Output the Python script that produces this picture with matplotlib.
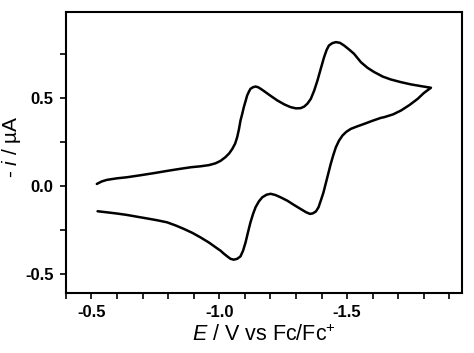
import matplotlib
matplotlib.use("Agg")
import matplotlib.pyplot as plt
from matplotlib.ticker import MultipleLocator

plt.rcParams['font.family'] = ['Liberation Sans', 'DejaVu Sans']
plt.rcParams['mathtext.fontset'] = 'custom'
plt.rcParams['mathtext.rm'] = 'Liberation Sans'
plt.rcParams['mathtext.it'] = 'Liberation Sans:italic'

# Forward scan (upper branch), E in V vs Fc/Fc+, -i in uA
E_fwd = [-0.521, -0.540, -0.560, -0.600, -0.639, -0.690, -0.743, -0.800, -0.848,
         -0.890, -0.926, -0.960, -0.985, -1.005, -1.024, -1.039, -1.051, -1.062,
         -1.070, -1.077, -1.083, -1.090, -1.096, -1.103, -1.109, -1.116, -1.122,
         -1.132, -1.142, -1.152, -1.162, -1.175, -1.200, -1.227, -1.255, -1.279,
         -1.300, -1.318, -1.332, -1.345, -1.358, -1.371, -1.384, -1.397, -1.410,
         -1.420, -1.429, -1.442, -1.456, -1.472, -1.488, -1.507, -1.527, -1.554,
         -1.580, -1.606, -1.640, -1.671, -1.710, -1.750, -1.790, -1.828]
i_fwd = [0.011, 0.025, 0.034, 0.043, 0.049, 0.060, 0.072, 0.086, 0.097,
         0.106, 0.111, 0.118, 0.128, 0.142, 0.163, 0.185, 0.210, 0.240,
         0.276, 0.322, 0.371, 0.410, 0.447, 0.482, 0.513, 0.535, 0.551,
         0.560, 0.564, 0.560, 0.551, 0.538, 0.512, 0.485, 0.462, 0.447,
         0.440, 0.441, 0.450, 0.467, 0.494, 0.540, 0.598, 0.665, 0.731,
         0.772, 0.797, 0.810, 0.816, 0.812, 0.797, 0.775, 0.750, 0.702,
         0.670, 0.646, 0.620, 0.604, 0.589, 0.576, 0.566, 0.557]

# Reverse scan (lower branch)
E_rev = [-1.828, -1.800, -1.776, -1.745, -1.711, -1.680, -1.645, -1.632, -1.600,
         -1.567, -1.540, -1.515, -1.497, -1.482, -1.468, -1.456, -1.446, -1.436,
         -1.426, -1.416, -1.407, -1.397, -1.388, -1.378, -1.366, -1.355, -1.340,
         -1.318, -1.292, -1.266, -1.240, -1.220, -1.201, -1.185, -1.168, -1.155,
         -1.142, -1.132, -1.122, -1.112, -1.103, -1.093, -1.083, -1.070, -1.057,
         -1.044, -1.031, -1.018, -1.005, -0.992, -0.960, -0.926, -0.895, -0.861,
         -0.830, -0.796, -0.760, -0.730, -0.690, -0.639, -0.600, -0.560, -0.524]
i_rev = [0.557, 0.527, 0.494, 0.460, 0.428, 0.406, 0.390, 0.386, 0.370,
         0.352, 0.338, 0.324, 0.307, 0.286, 0.256, 0.219, 0.175, 0.125,
         0.068, 0.011, -0.040, -0.084, -0.122, -0.145, -0.156, -0.159, -0.150,
         -0.131, -0.108, -0.084, -0.065, -0.052, -0.045, -0.050, -0.065, -0.088,
         -0.121, -0.160, -0.207, -0.265, -0.320, -0.368, -0.400, -0.414, -0.419,
         -0.414, -0.400, -0.385, -0.368, -0.355, -0.322, -0.292, -0.267, -0.244,
         -0.225, -0.207, -0.196, -0.188, -0.178, -0.165, -0.157, -0.150, -0.144]

fig = plt.figure(figsize=(4.74, 3.53), dpi=100)
ax = fig.add_axes([0.139, 0.170, 0.836, 0.796])

ax.plot(E_fwd + E_rev, i_fwd + i_rev, color='black', lw=1.8,
        solid_joinstyle='round', solid_capstyle='round')

ax.set_xlim(-0.40, -1.95)
ax.set_ylim(-0.608, 0.987)
ax.xaxis.set_major_locator(MultipleLocator(0.5))
ax.xaxis.set_minor_locator(MultipleLocator(0.1))
ax.yaxis.set_major_locator(MultipleLocator(0.5))
ax.yaxis.set_minor_locator(MultipleLocator(0.25))
ax.xaxis.set_major_formatter(plt.FuncFormatter(lambda v, p: f"{v:.1f}"))
ax.yaxis.set_major_formatter(plt.FuncFormatter(lambda v, p: f"{v:.1f}"))

ax.tick_params(which='both', direction='out', length=4, width=1.2, top=False, right=False)
ax.tick_params(which='major', labelsize=12, pad=5)
for lab in ax.get_xticklabels() + ax.get_yticklabels():
    lab.set_fontweight('bold')
for s in ax.spines.values():
    s.set_linewidth(1.5)

ax.set_xlabel(r'$\it{E}$ / V vs Fc/Fc$^{+}$', fontsize=15.5, labelpad=3)
ax.set_ylabel(r'- $\it{i}$ / µA', fontsize=15)
ax.yaxis.set_label_coords(-0.108, 0.52)

fig.savefig('out.png', dpi=100, facecolor='white')
